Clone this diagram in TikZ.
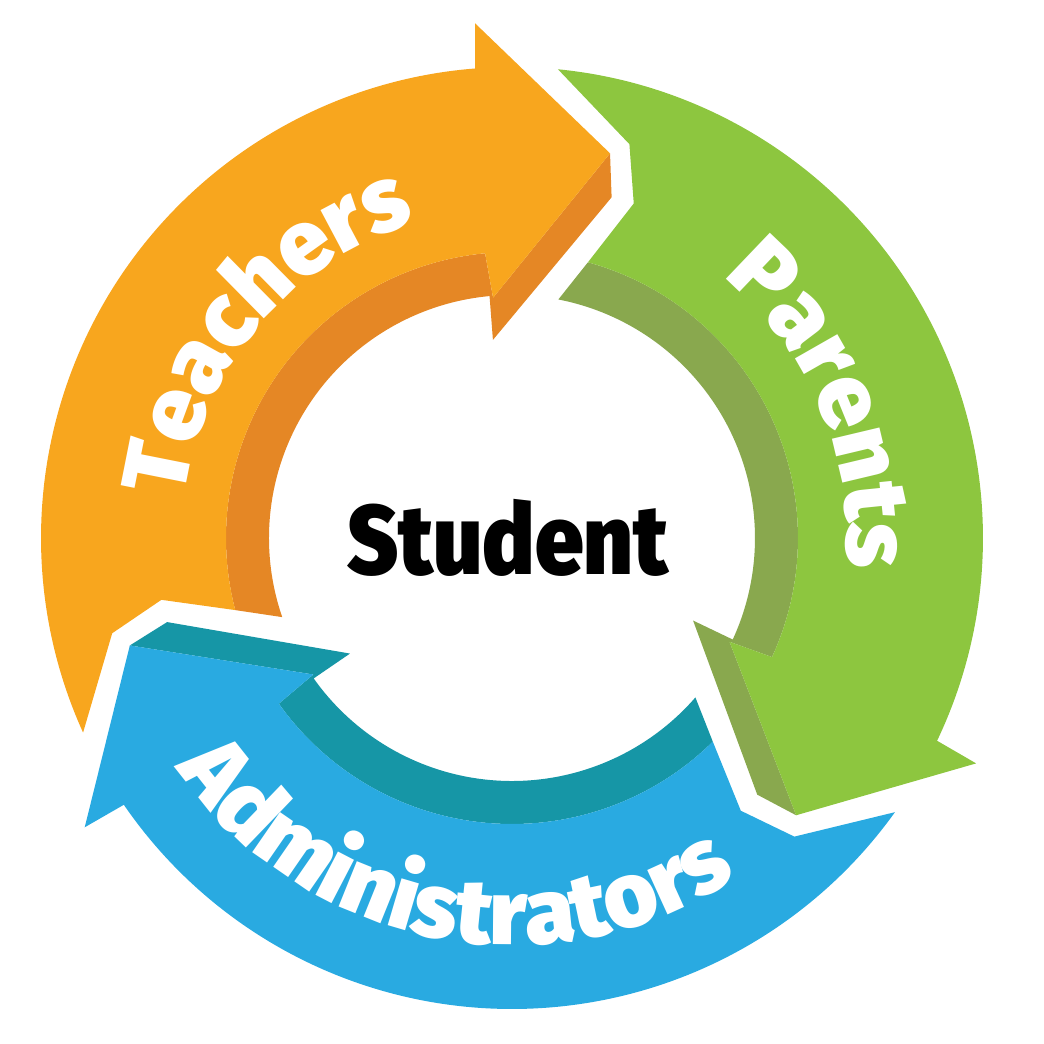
\documentclass[tikz,border=0pt]{standalone}
\usepackage{fontspec}
\setmainfont{Fira Sans}
\newfontfamily\heavyfont{Fira Sans Black}
\usetikzlibrary{decorations.text}
\definecolor{teachers-top}{RGB}{248,166,30}
\definecolor{teachers-wall}{RGB}{229,135,37}
\definecolor{parents-top}{RGB}{141,198,63}
\definecolor{parents-wall}{RGB}{137,168,78}
\definecolor{admin-top}{RGB}{41,170,225}
\definecolor{admin-wall}{RGB}{22,150,166}
\tikzset{pics/cycle-arrow/.style 2 args={code={
    % inner wall, seen below the top face
    \fill[#2] (194.6:286) -- (199:243) arc[start angle=199, end angle=95.3, radius=243]
        -- (95.5:199) -- (73.7:355) -- (75.7:397) -- (94.5:241) -- (95.4:286)
        arc[start angle=95.4, end angle=194.6, radius=286] -- cycle;
    % top face with notched tail
    \fill[#1] (204.4:471) -- (193.4:411) -- (190:356) -- (194.6:286)
        arc[start angle=194.6, end angle=95.4, radius=286]
        -- (94.5:241) -- (75.7:397) -- (94.1:516) -- (94.5:471)
        arc[start angle=94.5, end angle=204.4, radius=471] -- cycle;
}}}
\tikzset{cycle-label/.style={decorate, decoration={text along path, text align=center,
    text={|\heavyfont\fontsize{26}{26}\selectfont\color{white}|#1}}}}
\tikzset{centre-label/.style={font=\heavyfont\fontsize{28}{28}\selectfont, inner sep=0,
    transform shape, xscale=0.885}}

\begin{document}
\begin{tikzpicture}[x=0.01cm, y=0.01cm]
    \useasboundingbox (-512,-506) rectangle (532,538);

    \pic (teachers) at (0,0) {cycle-arrow={teachers-top}{teachers-wall}};
    \pic[rotate=-120] (parents) at (0,0) {cycle-arrow={parents-top}{parents-wall}};
    \pic[rotate=120] (admin) at (0,0) {cycle-arrow={admin-top}{admin-wall}};

    \path[cycle-label=Teachers] (185:330) arc[start angle=185, end angle=95, radius=330];
    \path[cycle-label=Parents] (68:335) arc[start angle=68, end angle=-22, radius=335];
    \path[cycle-label=Administrators] (204:407) arc[start angle=204, end angle=314, radius=407];

    \node[centre-label] (student) at (-4,0) {Student};
\end{tikzpicture}
\end{document}
